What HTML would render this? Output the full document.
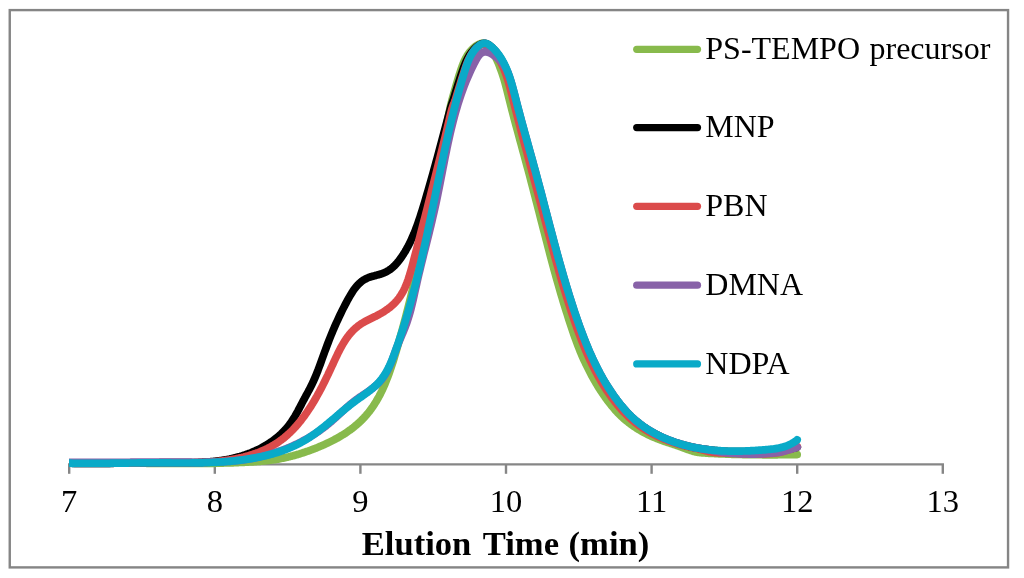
<!DOCTYPE html>
<html lang="en">
<head>
<meta charset="utf-8">
<title>Elution Time chart</title>
<style>
html,body{margin:0;padding:0;background:#fff;}
body{width:1024px;height:578px;overflow:hidden;font-family:"Liberation Serif",serif;}
svg{display:block;}
</style>
</head>
<body>
<svg width="1024" height="578" viewBox="0 0 1024 578">
<defs><clipPath id="plot"><rect x="69" y="0" width="760" height="500"/></clipPath></defs>
<rect x="0" y="0" width="1024" height="578" fill="#ffffff"/>
<rect x="9.75" y="10.1" width="998.3" height="557.3" fill="none" stroke="#858585" stroke-width="2.4"/>
<path d="M68.0,464.4 H944.0" stroke="#868686" stroke-width="2.4" fill="none"/>
<path d="M69.2,464.4 V473.8" stroke="#868686" stroke-width="2.4" fill="none"/>
<path d="M214.8,464.4 V473.8" stroke="#868686" stroke-width="2.4" fill="none"/>
<path d="M360.4,464.4 V473.8" stroke="#868686" stroke-width="2.4" fill="none"/>
<path d="M506.0,464.4 V473.8" stroke="#868686" stroke-width="2.4" fill="none"/>
<path d="M651.6,464.4 V473.8" stroke="#868686" stroke-width="2.4" fill="none"/>
<path d="M797.2,464.4 V473.8" stroke="#868686" stroke-width="2.4" fill="none"/>
<path d="M942.8,464.4 V473.8" stroke="#868686" stroke-width="2.4" fill="none"/>
<g clip-path="url(#plot)" fill="none" stroke-linecap="round" stroke-linejoin="round">
<path d="M69.0,463.2 L70.0,463.2 L71.0,463.2 L72.0,463.1 L73.0,463.1 L74.0,463.1 L75.0,463.1 L76.0,463.1 L77.0,463.1 L78.0,463.0 L79.0,463.0 L80.0,463.0 L81.0,463.0 L82.0,463.0 L83.0,463.0 L84.0,463.0 L85.0,463.0 L86.0,463.0 L87.0,463.0 L88.0,462.9 L89.0,462.9 L90.0,462.9 L91.0,462.9 L92.0,462.9 L93.0,462.9 L94.0,462.9 L95.0,462.9 L96.0,462.9 L97.0,462.9 L98.0,462.9 L99.0,462.9 L100.0,462.9 L101.0,462.9 L102.0,462.9 L103.0,462.9 L104.0,462.9 L105.0,462.9 L106.0,462.9 L107.0,462.9 L108.0,462.9 L109.0,462.9 L110.0,462.9 L111.0,462.9 L112.0,462.9 L113.0,462.9 L114.0,463.0 L115.0,463.0 L116.0,463.0 L117.0,463.0 L118.0,463.0 L119.0,463.0 L120.0,463.0 L121.0,463.0 L122.0,463.0 L123.0,463.0 L124.0,463.0 L125.0,463.0 L126.0,463.0 L127.0,463.1 L128.0,463.1 L129.0,463.1 L130.0,463.1 L131.0,463.1 L132.0,463.1 L133.0,463.1 L134.0,463.1 L135.0,463.1 L136.0,463.1 L137.0,463.2 L138.0,463.2 L139.0,463.2 L140.0,463.2 L141.0,463.2 L142.0,463.2 L143.0,463.2 L144.0,463.2 L145.0,463.2 L146.0,463.2 L147.0,463.3 L148.0,463.3 L149.0,463.3 L150.0,463.3 L151.0,463.3 L152.0,463.3 L153.0,463.3 L154.0,463.3 L155.0,463.3 L156.0,463.3 L157.0,463.4 L158.0,463.4 L159.0,463.4 L160.0,463.4 L161.0,463.4 L162.0,463.4 L163.0,463.4 L164.0,463.4 L165.0,463.4 L166.0,463.4 L167.0,463.4 L168.0,463.5 L169.0,463.5 L170.0,463.5 L171.0,463.5 L172.0,463.5 L173.0,463.5 L174.0,463.5 L175.0,463.5 L176.0,463.5 L177.0,463.5 L178.0,463.5 L179.0,463.5 L180.0,463.5 L181.0,463.5 L182.0,463.5 L183.0,463.5 L184.0,463.5 L185.0,463.5 L186.0,463.5 L187.0,463.5 L188.0,463.5 L189.0,463.5 L190.0,463.5 L191.0,463.5 L192.0,463.5 L193.0,463.5 L194.0,463.5 L195.0,463.5 L196.0,463.5 L197.0,463.5 L198.0,463.5 L199.0,463.5 L200.0,463.5 L201.0,463.5 L202.0,463.4 L203.0,463.4 L204.0,463.4 L205.0,463.4 L206.0,463.4 L207.0,463.4 L208.0,463.4 L209.0,463.4 L210.0,463.3 L211.0,463.3 L212.0,463.3 L213.0,463.3 L214.0,463.3 L215.0,463.3 L216.0,463.2 L217.0,463.2 L218.0,463.2 L219.0,463.2 L220.0,463.1 L221.0,463.1 L222.0,463.1 L223.0,463.1 L224.0,463.0 L225.0,463.0 L226.0,463.0 L227.0,463.0 L228.0,462.9 L229.0,462.9 L230.0,462.9 L231.0,462.8 L232.0,462.8 L233.0,462.8 L234.0,462.7 L235.0,462.7 L236.0,462.6 L237.0,462.6 L238.0,462.6 L239.0,462.5 L240.0,462.5 L241.0,462.4 L242.0,462.4 L243.0,462.3 L244.0,462.3 L245.0,462.2 L246.0,462.2 L247.0,462.1 L248.0,462.1 L249.0,462.0 L250.0,462.0 L251.0,461.9 L252.0,461.8 L253.0,461.8 L254.0,461.7 L255.0,461.7 L256.0,461.6 L257.0,461.5 L258.0,461.4 L259.0,461.4 L260.0,461.3 L261.0,461.2 L262.0,461.1 L263.0,461.0 L264.0,460.9 L265.0,460.8 L266.0,460.7 L267.0,460.6 L268.0,460.5 L269.0,460.4 L270.0,460.2 L271.0,460.1 L272.0,460.0 L273.0,459.8 L274.0,459.7 L275.0,459.6 L276.0,459.4 L277.0,459.2 L278.0,459.1 L279.0,458.9 L280.0,458.7 L281.0,458.5 L282.0,458.3 L283.0,458.1 L284.0,457.9 L285.0,457.7 L286.0,457.5 L287.0,457.3 L288.0,457.0 L289.0,456.8 L290.0,456.5 L291.0,456.3 L292.0,456.0 L293.0,455.8 L294.0,455.5 L295.0,455.2 L296.0,454.9 L297.0,454.6 L298.0,454.4 L299.0,454.1 L300.0,453.7 L301.0,453.4 L302.0,453.1 L303.0,452.8 L304.0,452.5 L305.0,452.1 L306.0,451.8 L307.0,451.4 L308.0,451.1 L309.0,450.7 L310.0,450.4 L311.0,450.0 L312.0,449.6 L313.0,449.3 L314.0,448.9 L315.0,448.5 L316.0,448.1 L317.0,447.7 L318.0,447.3 L319.0,446.9 L320.0,446.4 L321.0,446.0 L322.0,445.6 L323.0,445.1 L324.0,444.7 L325.0,444.2 L326.0,443.8 L327.0,443.3 L328.0,442.9 L329.0,442.4 L330.0,441.9 L331.0,441.4 L332.0,440.9 L333.0,440.4 L334.0,439.9 L335.0,439.3 L336.0,438.8 L337.0,438.2 L338.0,437.7 L339.0,437.1 L340.0,436.5 L341.0,435.9 L342.0,435.3 L343.0,434.7 L344.0,434.1 L345.0,433.5 L346.0,432.8 L347.0,432.1 L348.0,431.4 L349.0,430.7 L350.0,430.0 L351.0,429.3 L352.0,428.5 L353.0,427.8 L354.0,427.0 L355.0,426.1 L356.0,425.3 L357.0,424.4 L358.0,423.6 L359.0,422.7 L360.0,421.7 L361.0,420.8 L362.0,419.8 L363.0,418.7 L364.0,417.7 L365.0,416.6 L366.0,415.5 L367.0,414.3 L368.0,413.1 L369.0,411.9 L370.0,410.6 L371.0,409.2 L372.0,407.8 L373.0,406.4 L374.0,404.9 L375.0,403.3 L376.0,401.7 L377.0,400.0 L378.0,398.3 L379.0,396.5 L380.0,394.6 L381.0,392.6 L382.0,390.6 L383.0,388.4 L384.0,386.2 L385.0,383.9 L386.0,381.4 L387.0,378.9 L388.0,376.3 L389.0,373.6 L390.0,370.8 L391.0,367.8 L392.0,364.8 L393.0,361.7 L394.0,358.5 L395.0,355.2 L396.0,351.8 L397.0,348.4 L398.0,345.0 L399.0,341.5 L400.0,337.9 L401.0,334.3 L402.0,330.7 L403.0,327.0 L404.0,323.3 L405.0,319.5 L406.0,315.7 L407.0,311.8 L408.0,307.9 L409.0,303.9 L410.0,299.9 L411.0,295.8 L412.0,291.7 L413.0,287.5 L414.0,283.3 L415.0,279.0 L416.0,274.7 L417.0,270.3 L418.0,265.8 L419.0,261.3 L420.0,256.8 L421.0,252.2 L422.0,247.6 L423.0,242.9 L424.0,238.2 L425.0,233.4 L426.0,228.6 L427.0,223.7 L428.0,218.8 L429.0,213.9 L430.0,208.9 L431.0,204.0 L432.0,198.9 L433.0,193.9 L434.0,188.8 L435.0,183.8 L436.0,178.7 L437.0,173.6 L438.0,168.4 L439.0,163.3 L440.0,158.2 L441.0,153.1 L442.0,148.0 L443.0,143.0 L444.0,137.9 L445.0,132.8 L446.0,127.8 L447.0,122.8 L448.0,117.9 L449.0,113.0 L450.0,108.2 L451.0,103.9 L452.0,100.0 L453.0,96.4 L454.0,92.8 L455.0,89.3 L456.0,85.8 L457.0,82.4 L458.0,79.0 L459.0,75.7 L460.0,72.6 L461.0,69.5 L462.0,66.7 L463.0,64.1 L464.0,61.7 L465.0,59.5 L466.0,57.6 L467.0,55.9 L468.0,54.3 L469.0,52.9 L470.0,51.6 L471.0,50.5 L472.0,49.4 L473.0,48.4 L474.0,47.5 L475.0,46.7 L476.0,46.0 L477.0,45.3 L478.0,44.7 L479.0,44.2 L480.0,43.8 L481.0,43.6 L482.0,43.4 L483.0,43.5 L484.0,43.7 L485.0,44.1 L486.0,44.7 L487.0,45.5 L488.0,46.4 L489.0,47.4 L490.0,48.6 L491.0,49.8 L492.0,51.1 L493.0,52.6 L494.0,54.3 L495.0,56.1 L496.0,58.0 L497.0,60.1 L498.0,62.4 L499.0,64.9 L500.0,67.5 L501.0,70.2 L502.0,73.0 L503.0,76.0 L504.0,79.2 L505.0,82.7 L506.0,86.4 L507.0,90.3 L508.0,94.3 L509.0,98.4 L510.0,102.4 L511.0,106.3 L512.0,110.2 L513.0,114.1 L514.0,117.9 L515.0,121.7 L516.0,125.4 L517.0,129.1 L518.0,132.8 L519.0,136.5 L520.0,140.2 L521.0,143.8 L522.0,147.5 L523.0,151.1 L524.0,154.8 L525.0,158.5 L526.0,162.2 L527.0,165.9 L528.0,169.6 L529.0,173.3 L530.0,177.1 L531.0,180.9 L532.0,184.7 L533.0,188.6 L534.0,192.4 L535.0,196.3 L536.0,200.2 L537.0,204.1 L538.0,208.0 L539.0,211.9 L540.0,215.8 L541.0,219.7 L542.0,223.6 L543.0,227.4 L544.0,231.3 L545.0,235.1 L546.0,239.0 L547.0,242.8 L548.0,246.7 L549.0,250.6 L550.0,254.4 L551.0,258.2 L552.0,262.0 L553.0,265.7 L554.0,269.4 L555.0,273.1 L556.0,276.7 L557.0,280.3 L558.0,283.8 L559.0,287.3 L560.0,290.8 L561.0,294.2 L562.0,297.5 L563.0,300.8 L564.0,304.1 L565.0,307.3 L566.0,310.5 L567.0,313.7 L568.0,316.9 L569.0,320.0 L570.0,323.1 L571.0,326.1 L572.0,329.1 L573.0,332.0 L574.0,334.9 L575.0,337.7 L576.0,340.4 L577.0,343.1 L578.0,345.8 L579.0,348.3 L580.0,350.9 L581.0,353.3 L582.0,355.6 L583.0,357.9 L584.0,360.1 L585.0,362.2 L586.0,364.4 L587.0,366.4 L588.0,368.4 L589.0,370.4 L590.0,372.3 L591.0,374.2 L592.0,376.1 L593.0,377.9 L594.0,379.7 L595.0,381.4 L596.0,383.2 L597.0,384.8 L598.0,386.5 L599.0,388.1 L600.0,389.6 L601.0,391.2 L602.0,392.7 L603.0,394.1 L604.0,395.6 L605.0,397.0 L606.0,398.4 L607.0,399.8 L608.0,401.1 L609.0,402.4 L610.0,403.7 L611.0,405.0 L612.0,406.2 L613.0,407.4 L614.0,408.6 L615.0,409.8 L616.0,410.9 L617.0,412.0 L618.0,413.1 L619.0,414.1 L620.0,415.1 L621.0,416.1 L622.0,417.0 L623.0,417.9 L624.0,418.8 L625.0,419.7 L626.0,420.5 L627.0,421.3 L628.0,422.1 L629.0,422.9 L630.0,423.6 L631.0,424.4 L632.0,425.1 L633.0,425.8 L634.0,426.5 L635.0,427.2 L636.0,427.8 L637.0,428.5 L638.0,429.1 L639.0,429.7 L640.0,430.3 L641.0,430.9 L642.0,431.5 L643.0,432.0 L644.0,432.6 L645.0,433.1 L646.0,433.6 L647.0,434.1 L648.0,434.7 L649.0,435.1 L650.0,435.6 L651.0,436.1 L652.0,436.5 L653.0,437.0 L654.0,437.4 L655.0,437.8 L656.0,438.2 L657.0,438.6 L658.0,439.0 L659.0,439.4 L660.0,439.8 L661.0,440.1 L662.0,440.5 L663.0,440.9 L664.0,441.2 L665.0,441.5 L666.0,441.9 L667.0,442.2 L668.0,442.5 L669.0,442.8 L670.0,443.2 L671.0,443.5 L672.0,443.8 L673.0,444.2 L674.0,444.5 L675.0,444.8 L676.0,445.2 L677.0,445.5 L678.0,445.9 L679.0,446.3 L680.0,446.6 L681.0,447.0 L682.0,447.4 L683.0,447.7 L684.0,448.1 L685.0,448.5 L686.0,448.9 L687.0,449.2 L688.0,449.6 L689.0,449.9 L690.0,450.3 L691.0,450.6 L692.0,450.9 L693.0,451.2 L694.0,451.5 L695.0,451.7 L696.0,452.0 L697.0,452.2 L698.0,452.3 L699.0,452.5 L700.0,452.6 L701.0,452.7 L702.0,452.8 L703.0,452.9 L704.0,452.9 L705.0,453.0 L706.0,453.1 L707.0,453.1 L708.0,453.2 L709.0,453.3 L710.0,453.3 L711.0,453.4 L712.0,453.4 L713.0,453.5 L714.0,453.5 L715.0,453.6 L716.0,453.6 L717.0,453.7 L718.0,453.7 L719.0,453.8 L720.0,453.8 L721.0,453.8 L722.0,453.9 L723.0,453.9 L724.0,454.0 L725.0,454.0 L726.0,454.1 L727.0,454.1 L728.0,454.1 L729.0,454.2 L730.0,454.2 L731.0,454.2 L732.0,454.3 L733.0,454.3 L734.0,454.3 L735.0,454.4 L736.0,454.4 L737.0,454.4 L738.0,454.5 L739.0,454.5 L740.0,454.5 L741.0,454.5 L742.0,454.5 L743.0,454.6 L744.0,454.6 L745.0,454.6 L746.0,454.6 L747.0,454.6 L748.0,454.6 L749.0,454.7 L750.0,454.7 L751.0,454.7 L752.0,454.7 L753.0,454.7 L754.0,454.7 L755.0,454.7 L756.0,454.7 L757.0,454.7 L758.0,454.7 L759.0,454.7 L760.0,454.7 L761.0,454.7 L762.0,454.7 L763.0,454.8 L764.0,454.8 L765.0,454.8 L766.0,454.8 L767.0,454.8 L768.0,454.8 L769.0,454.8 L770.0,454.8 L771.0,454.8 L772.0,454.8 L773.0,454.8 L774.0,454.8 L775.0,454.8 L776.0,454.8 L777.0,454.8 L778.0,454.7 L779.0,454.7 L780.0,454.7 L781.0,454.7 L782.0,454.7 L783.0,454.7 L784.0,454.7 L785.0,454.7 L786.0,454.7 L787.0,454.7 L788.0,454.7 L789.0,454.7 L790.0,454.7 L791.0,454.7 L792.0,454.7 L793.0,454.7 L794.0,454.6 L795.0,454.6 L796.0,454.6 L797.0,454.6 L797.2,454.6" stroke="#88BA4C" stroke-width="7.7"/>
<path d="M69.0,463.2 L70.0,463.2 L71.0,463.2 L72.0,463.2 L73.0,463.3 L74.0,463.3 L75.0,463.3 L76.0,463.3 L77.0,463.3 L78.0,463.3 L79.0,463.3 L80.0,463.3 L81.0,463.3 L82.0,463.3 L83.0,463.4 L84.0,463.4 L85.0,463.4 L86.0,463.4 L87.0,463.4 L88.0,463.4 L89.0,463.4 L90.0,463.4 L91.0,463.4 L92.0,463.4 L93.0,463.4 L94.0,463.4 L95.0,463.4 L96.0,463.4 L97.0,463.4 L98.0,463.4 L99.0,463.4 L100.0,463.4 L101.0,463.3 L102.0,463.3 L103.0,463.3 L104.0,463.3 L105.0,463.3 L106.0,463.3 L107.0,463.3 L108.0,463.3 L109.0,463.3 L110.0,463.3 L111.0,463.3 L112.0,463.3 L113.0,463.3 L114.0,463.2 L115.0,463.2 L116.0,463.2 L117.0,463.2 L118.0,463.2 L119.0,463.2 L120.0,463.2 L121.0,463.2 L122.0,463.2 L123.0,463.1 L124.0,463.1 L125.0,463.1 L126.0,463.1 L127.0,463.1 L128.0,463.1 L129.0,463.1 L130.0,463.1 L131.0,463.0 L132.0,463.0 L133.0,463.0 L134.0,463.0 L135.0,463.0 L136.0,463.0 L137.0,463.0 L138.0,463.0 L139.0,462.9 L140.0,462.9 L141.0,462.9 L142.0,462.9 L143.0,462.9 L144.0,462.9 L145.0,462.9 L146.0,462.9 L147.0,462.9 L148.0,462.8 L149.0,462.8 L150.0,462.8 L151.0,462.8 L152.0,462.8 L153.0,462.8 L154.0,462.8 L155.0,462.8 L156.0,462.8 L157.0,462.8 L158.0,462.8 L159.0,462.8 L160.0,462.7 L161.0,462.7 L162.0,462.7 L163.0,462.7 L164.0,462.7 L165.0,462.7 L166.0,462.7 L167.0,462.7 L168.0,462.7 L169.0,462.7 L170.0,462.7 L171.0,462.7 L172.0,462.7 L173.0,462.7 L174.0,462.7 L175.0,462.7 L176.0,462.7 L177.0,462.7 L178.0,462.7 L179.0,462.7 L180.0,462.7 L181.0,462.7 L182.0,462.7 L183.0,462.7 L184.0,462.7 L185.0,462.7 L186.0,462.7 L187.0,462.7 L188.0,462.7 L189.0,462.7 L190.0,462.6 L191.0,462.6 L192.0,462.6 L193.0,462.6 L194.0,462.6 L195.0,462.5 L196.0,462.5 L197.0,462.5 L198.0,462.5 L199.0,462.4 L200.0,462.4 L201.0,462.3 L202.0,462.3 L203.0,462.2 L204.0,462.2 L205.0,462.1 L206.0,462.1 L207.0,462.0 L208.0,461.9 L209.0,461.8 L210.0,461.8 L211.0,461.7 L212.0,461.6 L213.0,461.5 L214.0,461.4 L215.0,461.3 L216.0,461.2 L217.0,461.1 L218.0,460.9 L219.0,460.8 L220.0,460.7 L221.0,460.5 L222.0,460.4 L223.0,460.2 L224.0,460.1 L225.0,459.9 L226.0,459.7 L227.0,459.5 L228.0,459.4 L229.0,459.2 L230.0,459.0 L231.0,458.7 L232.0,458.5 L233.0,458.3 L234.0,458.1 L235.0,457.8 L236.0,457.6 L237.0,457.3 L238.0,457.0 L239.0,456.7 L240.0,456.5 L241.0,456.2 L242.0,455.9 L243.0,455.5 L244.0,455.2 L245.0,454.9 L246.0,454.5 L247.0,454.2 L248.0,453.8 L249.0,453.4 L250.0,453.1 L251.0,452.7 L252.0,452.3 L253.0,451.8 L254.0,451.4 L255.0,451.0 L256.0,450.5 L257.0,450.0 L258.0,449.6 L259.0,449.1 L260.0,448.6 L261.0,448.1 L262.0,447.5 L263.0,447.0 L264.0,446.4 L265.0,445.8 L266.0,445.3 L267.0,444.6 L268.0,444.0 L269.0,443.4 L270.0,442.7 L271.0,442.0 L272.0,441.3 L273.0,440.6 L274.0,439.9 L275.0,439.1 L276.0,438.3 L277.0,437.5 L278.0,436.7 L279.0,435.8 L280.0,434.9 L281.0,434.0 L282.0,433.0 L283.0,432.0 L284.0,431.0 L285.0,429.9 L286.0,428.8 L287.0,427.6 L288.0,426.4 L289.0,425.2 L290.0,423.8 L291.0,422.4 L292.0,421.0 L293.0,419.4 L294.0,417.8 L295.0,416.2 L296.0,414.4 L297.0,412.6 L298.0,410.8 L299.0,408.9 L300.0,407.0 L301.0,405.1 L302.0,403.1 L303.0,401.2 L304.0,399.4 L305.0,397.5 L306.0,395.7 L307.0,393.8 L308.0,392.0 L309.0,390.2 L310.0,388.3 L311.0,386.3 L312.0,384.3 L313.0,382.2 L314.0,379.9 L315.0,377.6 L316.0,375.2 L317.0,372.7 L318.0,370.2 L319.0,367.5 L320.0,364.8 L321.0,362.1 L322.0,359.3 L323.0,356.5 L324.0,353.7 L325.0,351.0 L326.0,348.3 L327.0,345.6 L328.0,343.0 L329.0,340.4 L330.0,337.9 L331.0,335.4 L332.0,333.0 L333.0,330.6 L334.0,328.2 L335.0,325.9 L336.0,323.7 L337.0,321.5 L338.0,319.3 L339.0,317.1 L340.0,315.0 L341.0,313.0 L342.0,310.9 L343.0,308.9 L344.0,307.0 L345.0,305.0 L346.0,303.1 L347.0,301.2 L348.0,299.4 L349.0,297.6 L350.0,295.9 L351.0,294.2 L352.0,292.6 L353.0,291.0 L354.0,289.6 L355.0,288.2 L356.0,287.0 L357.0,285.8 L358.0,284.7 L359.0,283.7 L360.0,282.8 L361.0,281.9 L362.0,281.1 L363.0,280.4 L364.0,279.8 L365.0,279.2 L366.0,278.7 L367.0,278.2 L368.0,277.8 L369.0,277.4 L370.0,277.0 L371.0,276.7 L372.0,276.4 L373.0,276.2 L374.0,275.9 L375.0,275.6 L376.0,275.4 L377.0,275.1 L378.0,274.8 L379.0,274.6 L380.0,274.3 L381.0,274.0 L382.0,273.6 L383.0,273.3 L384.0,272.9 L385.0,272.4 L386.0,272.0 L387.0,271.4 L388.0,270.8 L389.0,270.2 L390.0,269.5 L391.0,268.8 L392.0,268.0 L393.0,267.1 L394.0,266.2 L395.0,265.2 L396.0,264.1 L397.0,263.0 L398.0,261.8 L399.0,260.6 L400.0,259.2 L401.0,257.9 L402.0,256.4 L403.0,254.9 L404.0,253.3 L405.0,251.7 L406.0,250.0 L407.0,248.2 L408.0,246.4 L409.0,244.5 L410.0,242.5 L411.0,240.4 L412.0,238.2 L413.0,235.9 L414.0,233.6 L415.0,231.1 L416.0,228.5 L417.0,225.8 L418.0,223.0 L419.0,220.1 L420.0,217.1 L421.0,214.0 L422.0,210.8 L423.0,207.6 L424.0,204.3 L425.0,201.0 L426.0,197.6 L427.0,194.2 L428.0,190.8 L429.0,187.3 L430.0,183.8 L431.0,180.3 L432.0,176.8 L433.0,173.2 L434.0,169.6 L435.0,166.0 L436.0,162.3 L437.0,158.7 L438.0,155.0 L439.0,151.3 L440.0,147.5 L441.0,143.8 L442.0,140.1 L443.0,136.3 L444.0,132.5 L445.0,128.8 L446.0,125.0 L447.0,121.2 L448.0,117.5 L449.0,113.7 L450.0,110.0 L451.0,106.4 L452.0,103.3 L453.0,100.4 L454.0,97.4 L455.0,94.2 L456.0,90.9 L457.0,87.7 L458.0,84.5 L459.0,81.3 L460.0,78.2 L461.0,75.2 L462.0,72.3 L463.0,69.4 L464.0,66.6 L465.0,64.1 L466.0,61.7 L467.0,59.6 L468.0,57.6 L469.0,55.9 L470.0,54.3 L471.0,52.9 L472.0,51.6 L473.0,50.4 L474.0,49.3 L475.0,48.3 L476.0,47.4 L477.0,46.5 L478.0,45.8 L479.0,45.1 L480.0,44.6 L481.0,44.1 L482.0,43.8 L483.0,43.5 L484.0,43.4 L485.0,43.4 L486.0,43.6 L487.0,43.9 L488.0,44.4 L489.0,45.0 L490.0,45.7 L491.0,46.5 L492.0,47.4 L493.0,48.4 L494.0,49.5 L495.0,50.6 L496.0,51.7 L497.0,53.0 L498.0,54.3 L499.0,55.8 L500.0,57.3 L501.0,58.9 L502.0,60.6 L503.0,62.4 L504.0,64.4 L505.0,66.5 L506.0,68.8 L507.0,71.3 L508.0,73.9 L509.0,76.8 L510.0,79.9 L511.0,83.2 L512.0,86.7 L513.0,90.4 L514.0,94.2 L515.0,98.0 L516.0,101.9 L517.0,105.8 L518.0,109.6 L519.0,113.4 L520.0,117.1 L521.0,120.9 L522.0,124.5 L523.0,128.2 L524.0,131.8 L525.0,135.4 L526.0,139.1 L527.0,142.7 L528.0,146.2 L529.0,149.8 L530.0,153.4 L531.0,157.0 L532.0,160.6 L533.0,164.3 L534.0,167.9 L535.0,171.6 L536.0,175.3 L537.0,179.0 L538.0,182.7 L539.0,186.5 L540.0,190.3 L541.0,194.1 L542.0,197.9 L543.0,201.7 L544.0,205.5 L545.0,209.4 L546.0,213.2 L547.0,217.0 L548.0,220.9 L549.0,224.7 L550.0,228.5 L551.0,232.3 L552.0,236.1 L553.0,239.8 L554.0,243.6 L555.0,247.3 L556.0,251.0 L557.0,254.7 L558.0,258.3 L559.0,261.9 L560.0,265.5 L561.0,269.0 L562.0,272.5 L563.0,276.0 L564.0,279.4 L565.0,282.8 L566.0,286.1 L567.0,289.4 L568.0,292.7 L569.0,295.9 L570.0,299.1 L571.0,302.2 L572.0,305.3 L573.0,308.4 L574.0,311.4 L575.0,314.4 L576.0,317.3 L577.0,320.2 L578.0,323.1 L579.0,325.9 L580.0,328.7 L581.0,331.4 L582.0,334.1 L583.0,336.7 L584.0,339.3 L585.0,341.8 L586.0,344.3 L587.0,346.7 L588.0,349.1 L589.0,351.4 L590.0,353.7 L591.0,355.9 L592.0,358.1 L593.0,360.2 L594.0,362.3 L595.0,364.4 L596.0,366.4 L597.0,368.4 L598.0,370.3 L599.0,372.2 L600.0,374.1 L601.0,375.9 L602.0,377.7 L603.0,379.4 L604.0,381.1 L605.0,382.8 L606.0,384.4 L607.0,386.0 L608.0,387.6 L609.0,389.2 L610.0,390.7 L611.0,392.2 L612.0,393.6 L613.0,395.1 L614.0,396.5 L615.0,397.9 L616.0,399.2 L617.0,400.5 L618.0,401.9 L619.0,403.1 L620.0,404.4 L621.0,405.6 L622.0,406.8 L623.0,408.0 L624.0,409.2 L625.0,410.3 L626.0,411.4 L627.0,412.5 L628.0,413.5 L629.0,414.6 L630.0,415.6 L631.0,416.5 L632.0,417.5 L633.0,418.4 L634.0,419.3 L635.0,420.2 L636.0,421.0 L637.0,421.8 L638.0,422.6 L639.0,423.4 L640.0,424.2 L641.0,424.9 L642.0,425.7 L643.0,426.4 L644.0,427.1 L645.0,427.8 L646.0,428.4 L647.0,429.1 L648.0,429.7 L649.0,430.3 L650.0,430.9 L651.0,431.5 L652.0,432.1 L653.0,432.7 L654.0,433.2 L655.0,433.8 L656.0,434.3 L657.0,434.8 L658.0,435.3 L659.0,435.8 L660.0,436.3 L661.0,436.8 L662.0,437.2 L663.0,437.7 L664.0,438.1 L665.0,438.6 L666.0,439.0 L667.0,439.4 L668.0,439.8 L669.0,440.2 L670.0,440.6 L671.0,441.0 L672.0,441.3 L673.0,441.7 L674.0,442.0 L675.0,442.4 L676.0,442.7 L677.0,443.0 L678.0,443.3 L679.0,443.7 L680.0,444.0 L681.0,444.3 L682.0,444.5 L683.0,444.8 L684.0,445.1 L685.0,445.4 L686.0,445.6 L687.0,445.9 L688.0,446.1 L689.0,446.4 L690.0,446.6 L691.0,446.8 L692.0,447.0 L693.0,447.2 L694.0,447.5 L695.0,447.7 L696.0,447.8 L697.0,448.0 L698.0,448.2 L699.0,448.4 L700.0,448.6 L701.0,448.7 L702.0,448.9 L703.0,449.0 L704.0,449.2 L705.0,449.3 L706.0,449.4 L707.0,449.6 L708.0,449.7 L709.0,449.8 L710.0,449.9 L711.0,450.0 L712.0,450.2 L713.0,450.3 L714.0,450.4 L715.0,450.5 L716.0,450.6 L717.0,450.7 L718.0,450.8 L719.0,450.9 L720.0,451.0 L721.0,451.1 L722.0,451.1 L723.0,451.2 L724.0,451.3 L725.0,451.3 L726.0,451.4 L727.0,451.4 L728.0,451.5 L729.0,451.5 L730.0,451.5 L731.0,451.5 L732.0,451.5 L733.0,451.5 L734.0,451.5 L735.0,451.5 L736.0,451.5 L737.0,451.5 L738.0,451.5 L739.0,451.5 L740.0,451.5 L741.0,451.5 L742.0,451.5 L743.0,451.5 L744.0,451.5 L745.0,451.5 L746.0,451.5 L747.0,451.5 L748.0,451.5 L749.0,451.5 L750.0,451.5 L751.0,451.5 L752.0,451.5 L753.0,451.5 L754.0,451.5 L755.0,451.5 L756.0,451.5 L757.0,451.5 L758.0,451.5 L759.0,451.5 L760.0,451.5 L761.0,451.5 L762.0,451.5 L763.0,451.5 L764.0,451.5 L765.0,451.4 L766.0,451.4 L767.0,451.4 L768.0,451.3 L769.0,451.3 L770.0,451.2 L771.0,451.2 L772.0,451.1 L773.0,451.1 L774.0,451.0 L775.0,451.0 L776.0,450.9 L777.0,450.8 L778.0,450.7 L779.0,450.7 L780.0,450.6 L781.0,450.5 L782.0,450.4 L783.0,450.2 L784.0,450.1 L785.0,449.9 L786.0,449.7 L787.0,449.5 L788.0,449.3 L789.0,449.1 L790.0,448.9 L791.0,448.7 L792.0,448.5 L793.0,448.2 L794.0,448.0 L795.0,447.8 L796.0,447.5 L797.0,447.4 L797.2,447.2" stroke="#000000" stroke-width="7.7"/>
<path d="M69.0,463.2 L70.0,463.2 L71.0,463.2 L72.0,463.2 L73.0,463.2 L74.0,463.2 L75.0,463.3 L76.0,463.3 L77.0,463.3 L78.0,463.3 L79.0,463.3 L80.0,463.3 L81.0,463.3 L82.0,463.3 L83.0,463.3 L84.0,463.3 L85.0,463.3 L86.0,463.3 L87.0,463.3 L88.0,463.3 L89.0,463.3 L90.0,463.3 L91.0,463.3 L92.0,463.3 L93.0,463.3 L94.0,463.3 L95.0,463.3 L96.0,463.3 L97.0,463.3 L98.0,463.3 L99.0,463.3 L100.0,463.3 L101.0,463.3 L102.0,463.3 L103.0,463.3 L104.0,463.3 L105.0,463.3 L106.0,463.3 L107.0,463.3 L108.0,463.3 L109.0,463.3 L110.0,463.2 L111.0,463.2 L112.0,463.2 L113.0,463.2 L114.0,463.2 L115.0,463.2 L116.0,463.2 L117.0,463.2 L118.0,463.2 L119.0,463.2 L120.0,463.2 L121.0,463.2 L122.0,463.2 L123.0,463.2 L124.0,463.2 L125.0,463.2 L126.0,463.1 L127.0,463.1 L128.0,463.1 L129.0,463.1 L130.0,463.1 L131.0,463.1 L132.0,463.1 L133.0,463.1 L134.0,463.1 L135.0,463.1 L136.0,463.1 L137.0,463.1 L138.0,463.1 L139.0,463.1 L140.0,463.0 L141.0,463.0 L142.0,463.0 L143.0,463.0 L144.0,463.0 L145.0,463.0 L146.0,463.0 L147.0,463.0 L148.0,463.0 L149.0,463.0 L150.0,463.0 L151.0,463.0 L152.0,463.0 L153.0,463.0 L154.0,463.0 L155.0,463.0 L156.0,462.9 L157.0,462.9 L158.0,462.9 L159.0,462.9 L160.0,462.9 L161.0,462.9 L162.0,462.9 L163.0,462.9 L164.0,462.9 L165.0,462.9 L166.0,462.9 L167.0,462.9 L168.0,462.9 L169.0,462.9 L170.0,462.9 L171.0,462.9 L172.0,462.9 L173.0,462.9 L174.0,462.9 L175.0,462.9 L176.0,462.9 L177.0,462.9 L178.0,462.9 L179.0,462.9 L180.0,462.9 L181.0,462.9 L182.0,462.9 L183.0,462.9 L184.0,462.9 L185.0,462.9 L186.0,462.9 L187.0,462.9 L188.0,462.8 L189.0,462.8 L190.0,462.8 L191.0,462.8 L192.0,462.8 L193.0,462.8 L194.0,462.8 L195.0,462.7 L196.0,462.7 L197.0,462.7 L198.0,462.6 L199.0,462.6 L200.0,462.6 L201.0,462.5 L202.0,462.5 L203.0,462.5 L204.0,462.4 L205.0,462.4 L206.0,462.3 L207.0,462.3 L208.0,462.2 L209.0,462.1 L210.0,462.1 L211.0,462.0 L212.0,461.9 L213.0,461.9 L214.0,461.8 L215.0,461.7 L216.0,461.6 L217.0,461.5 L218.0,461.4 L219.0,461.3 L220.0,461.2 L221.0,461.1 L222.0,461.0 L223.0,460.8 L224.0,460.7 L225.0,460.6 L226.0,460.4 L227.0,460.3 L228.0,460.2 L229.0,460.0 L230.0,459.8 L231.0,459.7 L232.0,459.5 L233.0,459.3 L234.0,459.2 L235.0,459.0 L236.0,458.8 L237.0,458.6 L238.0,458.4 L239.0,458.1 L240.0,457.9 L241.0,457.7 L242.0,457.5 L243.0,457.2 L244.0,457.0 L245.0,456.7 L246.0,456.4 L247.0,456.2 L248.0,455.9 L249.0,455.6 L250.0,455.3 L251.0,455.0 L252.0,454.7 L253.0,454.3 L254.0,454.0 L255.0,453.7 L256.0,453.3 L257.0,452.9 L258.0,452.6 L259.0,452.2 L260.0,451.8 L261.0,451.4 L262.0,450.9 L263.0,450.5 L264.0,450.1 L265.0,449.6 L266.0,449.1 L267.0,448.7 L268.0,448.2 L269.0,447.6 L270.0,447.1 L271.0,446.6 L272.0,446.0 L273.0,445.4 L274.0,444.9 L275.0,444.2 L276.0,443.6 L277.0,443.0 L278.0,442.3 L279.0,441.6 L280.0,440.9 L281.0,440.2 L282.0,439.4 L283.0,438.7 L284.0,437.9 L285.0,437.1 L286.0,436.2 L287.0,435.3 L288.0,434.4 L289.0,433.5 L290.0,432.6 L291.0,431.6 L292.0,430.6 L293.0,429.6 L294.0,428.5 L295.0,427.4 L296.0,426.3 L297.0,425.2 L298.0,424.0 L299.0,422.8 L300.0,421.6 L301.0,420.3 L302.0,419.0 L303.0,417.7 L304.0,416.4 L305.0,415.0 L306.0,413.6 L307.0,412.2 L308.0,410.7 L309.0,409.2 L310.0,407.7 L311.0,406.1 L312.0,404.5 L313.0,402.9 L314.0,401.2 L315.0,399.5 L316.0,397.8 L317.0,396.0 L318.0,394.2 L319.0,392.4 L320.0,390.5 L321.0,388.6 L322.0,386.7 L323.0,384.8 L324.0,382.8 L325.0,380.8 L326.0,378.7 L327.0,376.6 L328.0,374.6 L329.0,372.4 L330.0,370.3 L331.0,368.2 L332.0,366.0 L333.0,363.8 L334.0,361.7 L335.0,359.5 L336.0,357.4 L337.0,355.3 L338.0,353.2 L339.0,351.2 L340.0,349.3 L341.0,347.4 L342.0,345.6 L343.0,343.9 L344.0,342.2 L345.0,340.6 L346.0,339.1 L347.0,337.7 L348.0,336.3 L349.0,335.0 L350.0,333.8 L351.0,332.7 L352.0,331.6 L353.0,330.5 L354.0,329.5 L355.0,328.6 L356.0,327.7 L357.0,326.9 L358.0,326.1 L359.0,325.3 L360.0,324.6 L361.0,323.9 L362.0,323.3 L363.0,322.7 L364.0,322.1 L365.0,321.5 L366.0,321.0 L367.0,320.5 L368.0,320.0 L369.0,319.5 L370.0,319.0 L371.0,318.5 L372.0,318.0 L373.0,317.5 L374.0,317.0 L375.0,316.5 L376.0,316.1 L377.0,315.5 L378.0,315.0 L379.0,314.5 L380.0,313.9 L381.0,313.4 L382.0,312.8 L383.0,312.2 L384.0,311.6 L385.0,310.9 L386.0,310.2 L387.0,309.5 L388.0,308.8 L389.0,308.0 L390.0,307.3 L391.0,306.4 L392.0,305.6 L393.0,304.7 L394.0,303.7 L395.0,302.7 L396.0,301.6 L397.0,300.5 L398.0,299.3 L399.0,298.0 L400.0,296.6 L401.0,295.0 L402.0,293.4 L403.0,291.6 L404.0,289.7 L405.0,287.6 L406.0,285.2 L407.0,282.7 L408.0,280.0 L409.0,277.0 L410.0,273.7 L411.0,270.3 L412.0,266.7 L413.0,262.9 L414.0,259.1 L415.0,255.3 L416.0,251.5 L417.0,247.7 L418.0,243.8 L419.0,240.0 L420.0,236.1 L421.0,232.3 L422.0,228.4 L423.0,224.6 L424.0,220.7 L425.0,216.9 L426.0,213.0 L427.0,209.1 L428.0,205.2 L429.0,201.3 L430.0,197.4 L431.0,193.5 L432.0,189.5 L433.0,185.6 L434.0,181.6 L435.0,177.7 L436.0,173.7 L437.0,169.7 L438.0,165.7 L439.0,161.7 L440.0,157.7 L441.0,153.7 L442.0,149.6 L443.0,145.5 L444.0,141.4 L445.0,137.3 L446.0,133.2 L447.0,129.1 L448.0,124.9 L449.0,120.7 L450.0,116.5 L451.0,112.4 L452.0,108.6 L453.0,105.6 L454.0,103.2 L455.0,100.6 L456.0,97.5 L457.0,94.2 L458.0,90.9 L459.0,87.6 L460.0,84.4 L461.0,81.2 L462.0,78.0 L463.0,74.8 L464.0,71.7 L465.0,68.7 L466.0,65.8 L467.0,63.2 L468.0,60.7 L469.0,58.6 L470.0,56.7 L471.0,54.9 L472.0,53.3 L473.0,51.9 L474.0,50.6 L475.0,49.5 L476.0,48.4 L477.0,47.5 L478.0,46.6 L479.0,45.9 L480.0,45.3 L481.0,44.8 L482.0,44.5 L483.0,44.2 L484.0,44.1 L485.0,44.2 L486.0,44.4 L487.0,44.8 L488.0,45.4 L489.0,46.1 L490.0,46.9 L491.0,47.9 L492.0,48.9 L493.0,50.1 L494.0,51.3 L495.0,52.6 L496.0,54.0 L497.0,55.6 L498.0,57.3 L499.0,59.0 L500.0,60.9 L501.0,62.8 L502.0,64.9 L503.0,67.0 L504.0,69.3 L505.0,71.9 L506.0,74.6 L507.0,77.5 L508.0,80.7 L509.0,84.1 L510.0,87.7 L511.0,91.4 L512.0,95.3 L513.0,99.3 L514.0,103.3 L515.0,107.3 L516.0,111.2 L517.0,115.1 L518.0,119.0 L519.0,122.8 L520.0,126.6 L521.0,130.4 L522.0,134.2 L523.0,137.9 L524.0,141.7 L525.0,145.4 L526.0,149.1 L527.0,152.8 L528.0,156.6 L529.0,160.3 L530.0,164.1 L531.0,167.8 L532.0,171.6 L533.0,175.3 L534.0,178.9 L535.0,182.6 L536.0,186.3 L537.0,190.0 L538.0,193.7 L539.0,197.4 L540.0,201.2 L541.0,204.9 L542.0,208.7 L543.0,212.4 L544.0,216.2 L545.0,220.0 L546.0,223.7 L547.0,227.4 L548.0,231.2 L549.0,234.9 L550.0,238.6 L551.0,242.3 L552.0,246.0 L553.0,249.7 L554.0,253.4 L555.0,257.0 L556.0,260.7 L557.0,264.3 L558.0,267.8 L559.0,271.4 L560.0,274.9 L561.0,278.3 L562.0,281.7 L563.0,285.1 L564.0,288.4 L565.0,291.7 L566.0,295.0 L567.0,298.2 L568.0,301.4 L569.0,304.5 L570.0,307.6 L571.0,310.7 L572.0,313.7 L573.0,316.6 L574.0,319.6 L575.0,322.5 L576.0,325.3 L577.0,328.1 L578.0,330.9 L579.0,333.6 L580.0,336.2 L581.0,338.8 L582.0,341.4 L583.0,343.9 L584.0,346.4 L585.0,348.8 L586.0,351.1 L587.0,353.4 L588.0,355.7 L589.0,357.9 L590.0,360.1 L591.0,362.2 L592.0,364.3 L593.0,366.3 L594.0,368.3 L595.0,370.3 L596.0,372.2 L597.0,374.0 L598.0,375.9 L599.0,377.7 L600.0,379.4 L601.0,381.2 L602.0,382.9 L603.0,384.5 L604.0,386.1 L605.0,387.7 L606.0,389.3 L607.0,390.8 L608.0,392.2 L609.0,393.7 L610.0,395.1 L611.0,396.5 L612.0,397.9 L613.0,399.2 L614.0,400.5 L615.0,401.8 L616.0,403.1 L617.0,404.3 L618.0,405.6 L619.0,406.8 L620.0,407.9 L621.0,409.1 L622.0,410.2 L623.0,411.3 L624.0,412.4 L625.0,413.4 L626.0,414.4 L627.0,415.4 L628.0,416.4 L629.0,417.3 L630.0,418.2 L631.0,419.1 L632.0,420.0 L633.0,420.8 L634.0,421.6 L635.0,422.5 L636.0,423.2 L637.0,424.0 L638.0,424.7 L639.0,425.5 L640.0,426.2 L641.0,426.9 L642.0,427.6 L643.0,428.2 L644.0,428.9 L645.0,429.5 L646.0,430.1 L647.0,430.7 L648.0,431.3 L649.0,431.9 L650.0,432.5 L651.0,433.0 L652.0,433.5 L653.0,434.1 L654.0,434.6 L655.0,435.1 L656.0,435.6 L657.0,436.0 L658.0,436.5 L659.0,437.0 L660.0,437.4 L661.0,437.9 L662.0,438.3 L663.0,438.7 L664.0,439.1 L665.0,439.5 L666.0,439.9 L667.0,440.3 L668.0,440.7 L669.0,441.0 L670.0,441.4 L671.0,441.7 L672.0,442.1 L673.0,442.4 L674.0,442.8 L675.0,443.1 L676.0,443.4 L677.0,443.7 L678.0,444.0 L679.0,444.3 L680.0,444.6 L681.0,444.8 L682.0,445.1 L683.0,445.4 L684.0,445.6 L685.0,445.9 L686.0,446.1 L687.0,446.3 L688.0,446.6 L689.0,446.8 L690.0,447.0 L691.0,447.2 L692.0,447.4 L693.0,447.6 L694.0,447.8 L695.0,448.0 L696.0,448.3 L697.0,448.5 L698.0,448.7 L699.0,449.0 L700.0,449.2 L701.0,449.5 L702.0,449.7 L703.0,450.0 L704.0,450.3 L705.0,450.6 L706.0,450.8 L707.0,451.1 L708.0,451.4 L709.0,451.6 L710.0,451.8 L711.0,452.0 L712.0,452.2 L713.0,452.4 L714.0,452.5 L715.0,452.6 L716.0,452.7 L717.0,452.7 L718.0,452.8 L719.0,452.8 L720.0,452.9 L721.0,452.9 L722.0,453.0 L723.0,453.0 L724.0,453.1 L725.0,453.1 L726.0,453.2 L727.0,453.2 L728.0,453.2 L729.0,453.3 L730.0,453.3 L731.0,453.3 L732.0,453.4 L733.0,453.4 L734.0,453.4 L735.0,453.5 L736.0,453.5 L737.0,453.5 L738.0,453.5 L739.0,453.6 L740.0,453.6 L741.0,453.6 L742.0,453.7 L743.0,453.7 L744.0,453.7 L745.0,453.7 L746.0,453.8 L747.0,453.8 L748.0,453.8 L749.0,453.8 L750.0,453.9 L751.0,453.9 L752.0,453.9 L753.0,453.9 L754.0,453.9 L755.0,454.0 L756.0,454.0 L757.0,454.0 L758.0,454.0 L759.0,454.0 L760.0,454.0 L761.0,454.0 L762.0,454.0 L763.0,453.9 L764.0,453.9 L765.0,453.9 L766.0,453.8 L767.0,453.7 L768.0,453.7 L769.0,453.6 L770.0,453.5 L771.0,453.4 L772.0,453.3 L773.0,453.2 L774.0,453.1 L775.0,453.0 L776.0,452.9 L777.0,452.7 L778.0,452.6 L779.0,452.4 L780.0,452.2 L781.0,451.9 L782.0,451.7 L783.0,451.4 L784.0,451.2 L785.0,450.9 L786.0,450.6 L787.0,450.3 L788.0,450.0 L789.0,449.7 L790.0,449.4 L791.0,449.1 L792.0,448.7 L793.0,448.3 L794.0,447.9 L795.0,447.5 L796.0,447.1 L797.0,446.8 L797.2,446.5" stroke="#DB4B4B" stroke-width="7.7"/>
<path d="M69.0,462.3 L70.0,462.3 L71.0,462.3 L72.0,462.3 L73.0,462.3 L74.0,462.4 L75.0,462.4 L76.0,462.4 L77.0,462.4 L78.0,462.4 L79.0,462.4 L80.0,462.4 L81.0,462.4 L82.0,462.4 L83.0,462.4 L84.0,462.4 L85.0,462.4 L86.0,462.4 L87.0,462.4 L88.0,462.4 L89.0,462.4 L90.0,462.4 L91.0,462.4 L92.0,462.4 L93.0,462.4 L94.0,462.4 L95.0,462.4 L96.0,462.4 L97.0,462.4 L98.0,462.4 L99.0,462.4 L100.0,462.4 L101.0,462.4 L102.0,462.4 L103.0,462.4 L104.0,462.4 L105.0,462.4 L106.0,462.4 L107.0,462.4 L108.0,462.4 L109.0,462.4 L110.0,462.4 L111.0,462.4 L112.0,462.4 L113.0,462.4 L114.0,462.4 L115.0,462.4 L116.0,462.4 L117.0,462.4 L118.0,462.3 L119.0,462.3 L120.0,462.3 L121.0,462.3 L122.0,462.3 L123.0,462.3 L124.0,462.3 L125.0,462.3 L126.0,462.3 L127.0,462.3 L128.0,462.3 L129.0,462.3 L130.0,462.3 L131.0,462.2 L132.0,462.2 L133.0,462.2 L134.0,462.2 L135.0,462.2 L136.0,462.2 L137.0,462.2 L138.0,462.2 L139.0,462.2 L140.0,462.2 L141.0,462.2 L142.0,462.2 L143.0,462.2 L144.0,462.2 L145.0,462.1 L146.0,462.1 L147.0,462.1 L148.0,462.1 L149.0,462.1 L150.0,462.1 L151.0,462.1 L152.0,462.1 L153.0,462.1 L154.0,462.1 L155.0,462.1 L156.0,462.1 L157.0,462.1 L158.0,462.1 L159.0,462.1 L160.0,462.1 L161.0,462.1 L162.0,462.1 L163.0,462.1 L164.0,462.1 L165.0,462.1 L166.0,462.1 L167.0,462.1 L168.0,462.1 L169.0,462.1 L170.0,462.1 L171.0,462.1 L172.0,462.1 L173.0,462.1 L174.0,462.1 L175.0,462.1 L176.0,462.1 L177.0,462.1 L178.0,462.1 L179.0,462.1 L180.0,462.1 L181.0,462.2 L182.0,462.2 L183.0,462.2 L184.0,462.2 L185.0,462.2 L186.0,462.2 L187.0,462.2 L188.0,462.2 L189.0,462.2 L190.0,462.2 L191.0,462.2 L192.0,462.3 L193.0,462.3 L194.0,462.3 L195.0,462.3 L196.0,462.3 L197.0,462.3 L198.0,462.3 L199.0,462.3 L200.0,462.3 L201.0,462.3 L202.0,462.3 L203.0,462.3 L204.0,462.3 L205.0,462.3 L206.0,462.3 L207.0,462.2 L208.0,462.2 L209.0,462.2 L210.0,462.2 L211.0,462.2 L212.0,462.2 L213.0,462.1 L214.0,462.1 L215.0,462.1 L216.0,462.1 L217.0,462.0 L218.0,462.0 L219.0,461.9 L220.0,461.9 L221.0,461.9 L222.0,461.8 L223.0,461.8 L224.0,461.7 L225.0,461.6 L226.0,461.6 L227.0,461.5 L228.0,461.4 L229.0,461.4 L230.0,461.3 L231.0,461.2 L232.0,461.1 L233.0,461.0 L234.0,460.9 L235.0,460.8 L236.0,460.7 L237.0,460.6 L238.0,460.5 L239.0,460.4 L240.0,460.3 L241.0,460.2 L242.0,460.0 L243.0,459.9 L244.0,459.8 L245.0,459.6 L246.0,459.5 L247.0,459.3 L248.0,459.1 L249.0,459.0 L250.0,458.8 L251.0,458.6 L252.0,458.4 L253.0,458.2 L254.0,458.1 L255.0,457.9 L256.0,457.6 L257.0,457.4 L258.0,457.2 L259.0,457.0 L260.0,456.8 L261.0,456.5 L262.0,456.3 L263.0,456.1 L264.0,455.8 L265.0,455.5 L266.0,455.3 L267.0,455.0 L268.0,454.7 L269.0,454.5 L270.0,454.2 L271.0,453.9 L272.0,453.6 L273.0,453.3 L274.0,453.0 L275.0,452.6 L276.0,452.3 L277.0,452.0 L278.0,451.6 L279.0,451.3 L280.0,450.9 L281.0,450.6 L282.0,450.2 L283.0,449.9 L284.0,449.5 L285.0,449.1 L286.0,448.7 L287.0,448.3 L288.0,447.9 L289.0,447.5 L290.0,447.1 L291.0,446.6 L292.0,446.2 L293.0,445.7 L294.0,445.3 L295.0,444.8 L296.0,444.4 L297.0,443.9 L298.0,443.4 L299.0,442.9 L300.0,442.4 L301.0,441.9 L302.0,441.4 L303.0,440.8 L304.0,440.3 L305.0,439.8 L306.0,439.2 L307.0,438.6 L308.0,438.1 L309.0,437.5 L310.0,436.9 L311.0,436.3 L312.0,435.7 L313.0,435.0 L314.0,434.4 L315.0,433.8 L316.0,433.1 L317.0,432.4 L318.0,431.8 L319.0,431.1 L320.0,430.4 L321.0,429.6 L322.0,428.9 L323.0,428.2 L324.0,427.4 L325.0,426.7 L326.0,425.9 L327.0,425.1 L328.0,424.3 L329.0,423.5 L330.0,422.6 L331.0,421.8 L332.0,420.9 L333.0,420.0 L334.0,419.1 L335.0,418.2 L336.0,417.3 L337.0,416.4 L338.0,415.5 L339.0,414.5 L340.0,413.6 L341.0,412.7 L342.0,411.8 L343.0,410.8 L344.0,409.9 L345.0,409.0 L346.0,408.1 L347.0,407.2 L348.0,406.3 L349.0,405.5 L350.0,404.6 L351.0,403.8 L352.0,403.0 L353.0,402.1 L354.0,401.4 L355.0,400.6 L356.0,399.9 L357.0,399.1 L358.0,398.4 L359.0,397.7 L360.0,397.0 L361.0,396.3 L362.0,395.7 L363.0,395.0 L364.0,394.3 L365.0,393.6 L366.0,393.0 L367.0,392.3 L368.0,391.6 L369.0,390.9 L370.0,390.2 L371.0,389.4 L372.0,388.7 L373.0,387.9 L374.0,387.1 L375.0,386.3 L376.0,385.4 L377.0,384.5 L378.0,383.6 L379.0,382.6 L380.0,381.5 L381.0,380.4 L382.0,379.1 L383.0,377.8 L384.0,376.4 L385.0,374.9 L386.0,373.3 L387.0,371.6 L388.0,369.7 L389.0,367.7 L390.0,365.5 L391.0,363.2 L392.0,360.6 L393.0,357.9 L394.0,355.1 L395.0,352.3 L396.0,349.5 L397.0,346.9 L398.0,344.4 L399.0,341.9 L400.0,339.5 L401.0,337.2 L402.0,334.8 L403.0,332.4 L404.0,330.0 L405.0,327.5 L406.0,324.9 L407.0,322.1 L408.0,319.1 L409.0,315.9 L410.0,312.4 L411.0,308.7 L412.0,304.6 L413.0,300.3 L414.0,295.9 L415.0,291.3 L416.0,286.8 L417.0,282.3 L418.0,278.0 L419.0,273.7 L420.0,269.5 L421.0,265.4 L422.0,261.3 L423.0,257.3 L424.0,253.2 L425.0,249.2 L426.0,245.2 L427.0,241.2 L428.0,237.2 L429.0,233.2 L430.0,229.1 L431.0,225.0 L432.0,220.8 L433.0,216.5 L434.0,212.2 L435.0,207.7 L436.0,203.1 L437.0,198.4 L438.0,193.5 L439.0,188.5 L440.0,183.5 L441.0,178.3 L442.0,173.2 L443.0,168.0 L444.0,162.9 L445.0,157.8 L446.0,152.9 L447.0,148.0 L448.0,143.3 L449.0,138.7 L450.0,134.2 L451.0,129.9 L452.0,125.8 L453.0,121.8 L454.0,118.0 L455.0,114.3 L456.0,110.7 L457.0,107.3 L458.0,104.0 L459.0,100.8 L460.0,97.8 L461.0,94.8 L462.0,92.0 L463.0,89.2 L464.0,86.5 L465.0,83.9 L466.0,81.4 L467.0,79.0 L468.0,76.7 L469.0,74.4 L470.0,72.2 L471.0,70.0 L472.0,67.9 L473.0,65.8 L474.0,63.8 L475.0,61.9 L476.0,60.0 L477.0,58.3 L478.0,56.7 L479.0,55.3 L480.0,54.2 L481.0,53.3 L482.0,52.7 L483.0,52.2 L484.0,51.9 L485.0,51.8 L486.0,51.9 L487.0,52.0 L488.0,52.3 L489.0,52.6 L490.0,53.0 L491.0,53.5 L492.0,54.1 L493.0,54.8 L494.0,55.5 L495.0,56.2 L496.0,57.0 L497.0,57.8 L498.0,58.7 L499.0,59.6 L500.0,60.6 L501.0,61.6 L502.0,62.8 L503.0,64.1 L504.0,65.5 L505.0,67.0 L506.0,68.7 L507.0,70.5 L508.0,72.7 L509.0,75.4 L510.0,78.3 L511.0,81.5 L512.0,84.9 L513.0,88.5 L514.0,92.3 L515.0,96.1 L516.0,100.0 L517.0,103.9 L518.0,107.8 L519.0,111.6 L520.0,115.3 L521.0,119.1 L522.0,122.7 L523.0,126.4 L524.0,130.1 L525.0,133.7 L526.0,137.3 L527.0,140.9 L528.0,144.5 L529.0,148.1 L530.0,151.7 L531.0,155.3 L532.0,158.9 L533.0,162.5 L534.0,166.2 L535.0,169.8 L536.0,173.5 L537.0,177.2 L538.0,181.0 L539.0,184.7 L540.0,188.5 L541.0,192.3 L542.0,196.1 L543.0,199.9 L544.0,203.7 L545.0,207.6 L546.0,211.4 L547.0,215.3 L548.0,219.1 L549.0,222.9 L550.0,226.7 L551.0,230.5 L552.0,234.3 L553.0,238.1 L554.0,241.9 L555.0,245.6 L556.0,249.3 L557.0,253.0 L558.0,256.6 L559.0,260.2 L560.0,263.8 L561.0,267.4 L562.0,270.9 L563.0,274.4 L564.0,277.8 L565.0,281.2 L566.0,284.6 L567.0,287.9 L568.0,291.2 L569.0,294.4 L570.0,297.7 L571.0,300.8 L572.0,303.9 L573.0,307.0 L574.0,310.1 L575.0,313.1 L576.0,316.0 L577.0,319.0 L578.0,321.8 L579.0,324.7 L580.0,327.5 L581.0,330.2 L582.0,332.9 L583.0,335.5 L584.0,338.1 L585.0,340.7 L586.0,343.2 L587.0,345.6 L588.0,348.0 L589.0,350.4 L590.0,352.7 L591.0,354.9 L592.0,357.1 L593.0,359.3 L594.0,361.4 L595.0,363.5 L596.0,365.5 L597.0,367.5 L598.0,369.5 L599.0,371.4 L600.0,373.3 L601.0,375.1 L602.0,376.9 L603.0,378.7 L604.0,380.4 L605.0,382.1 L606.0,383.7 L607.0,385.4 L608.0,386.9 L609.0,388.5 L610.0,390.0 L611.0,391.5 L612.0,393.0 L613.0,394.5 L614.0,395.9 L615.0,397.3 L616.0,398.6 L617.0,400.0 L618.0,401.3 L619.0,402.6 L620.0,403.9 L621.0,405.1 L622.0,406.3 L623.0,407.5 L624.0,408.7 L625.0,409.8 L626.0,411.0 L627.0,412.0 L628.0,413.1 L629.0,414.1 L630.0,415.2 L631.0,416.1 L632.0,417.1 L633.0,418.0 L634.0,418.9 L635.0,419.8 L636.0,420.7 L637.0,421.5 L638.0,422.3 L639.0,423.1 L640.0,423.9 L641.0,424.6 L642.0,425.4 L643.0,426.1 L644.0,426.8 L645.0,427.5 L646.0,428.2 L647.0,428.8 L648.0,429.5 L649.0,430.1 L650.0,430.7 L651.0,431.3 L652.0,431.9 L653.0,432.5 L654.0,433.0 L655.0,433.6 L656.0,434.1 L657.0,434.6 L658.0,435.1 L659.0,435.6 L660.0,436.1 L661.0,436.6 L662.0,437.1 L663.0,437.5 L664.0,438.0 L665.0,438.4 L666.0,438.8 L667.0,439.2 L668.0,439.6 L669.0,440.0 L670.0,440.4 L671.0,440.8 L672.0,441.2 L673.0,441.5 L674.0,441.9 L675.0,442.2 L676.0,442.6 L677.0,442.9 L678.0,443.2 L679.0,443.5 L680.0,443.8 L681.0,444.1 L682.0,444.4 L683.0,444.7 L684.0,445.0 L685.0,445.3 L686.0,445.5 L687.0,445.8 L688.0,446.0 L689.0,446.3 L690.0,446.5 L691.0,446.7 L692.0,447.0 L693.0,447.2 L694.0,447.4 L695.0,447.6 L696.0,447.8 L697.0,448.0 L698.0,448.1 L699.0,448.3 L700.0,448.5 L701.0,448.7 L702.0,448.8 L703.0,449.0 L704.0,449.1 L705.0,449.3 L706.0,449.4 L707.0,449.6 L708.0,449.8 L709.0,449.9 L710.0,450.1 L711.0,450.2 L712.0,450.4 L713.0,450.6 L714.0,450.8 L715.0,451.0 L716.0,451.1 L717.0,451.3 L718.0,451.5 L719.0,451.7 L720.0,451.9 L721.0,452.0 L722.0,452.2 L723.0,452.4 L724.0,452.5 L725.0,452.6 L726.0,452.8 L727.0,452.8 L728.0,452.9 L729.0,453.0 L730.0,453.1 L731.0,453.2 L732.0,453.2 L733.0,453.3 L734.0,453.4 L735.0,453.4 L736.0,453.5 L737.0,453.6 L738.0,453.6 L739.0,453.7 L740.0,453.7 L741.0,453.8 L742.0,453.8 L743.0,453.9 L744.0,453.9 L745.0,454.0 L746.0,454.0 L747.0,454.0 L748.0,454.0 L749.0,454.1 L750.0,454.1 L751.0,454.1 L752.0,454.1 L753.0,454.1 L754.0,454.1 L755.0,454.1 L756.0,454.1 L757.0,454.0 L758.0,454.0 L759.0,454.0 L760.0,453.9 L761.0,453.9 L762.0,453.8 L763.0,453.8 L764.0,453.7 L765.0,453.6 L766.0,453.6 L767.0,453.5 L768.0,453.4 L769.0,453.3 L770.0,453.2 L771.0,453.2 L772.0,453.1 L773.0,453.0 L774.0,452.9 L775.0,452.8 L776.0,452.7 L777.0,452.5 L778.0,452.4 L779.0,452.3 L780.0,452.1 L781.0,451.9 L782.0,451.7 L783.0,451.4 L784.0,451.2 L785.0,450.9 L786.0,450.6 L787.0,450.4 L788.0,450.1 L789.0,449.8 L790.0,449.5 L791.0,449.2 L792.0,448.9 L793.0,448.6 L794.0,448.3 L795.0,448.0 L796.0,447.7 L797.0,447.4 L797.2,447.2" stroke="#8862A8" stroke-width="7.7"/>
<path d="M69.0,463.2 L70.0,463.2 L71.0,463.2 L72.0,463.3 L73.0,463.3 L74.0,463.3 L75.0,463.3 L76.0,463.3 L77.0,463.3 L78.0,463.3 L79.0,463.3 L80.0,463.4 L81.0,463.4 L82.0,463.4 L83.0,463.4 L84.0,463.4 L85.0,463.4 L86.0,463.4 L87.0,463.4 L88.0,463.4 L89.0,463.4 L90.0,463.4 L91.0,463.4 L92.0,463.4 L93.0,463.4 L94.0,463.4 L95.0,463.4 L96.0,463.4 L97.0,463.4 L98.0,463.4 L99.0,463.4 L100.0,463.4 L101.0,463.3 L102.0,463.3 L103.0,463.3 L104.0,463.3 L105.0,463.3 L106.0,463.3 L107.0,463.3 L108.0,463.3 L109.0,463.3 L110.0,463.3 L111.0,463.2 L112.0,463.2 L113.0,463.2 L114.0,463.2 L115.0,463.2 L116.0,463.2 L117.0,463.2 L118.0,463.2 L119.0,463.2 L120.0,463.1 L121.0,463.1 L122.0,463.1 L123.0,463.1 L124.0,463.1 L125.0,463.1 L126.0,463.1 L127.0,463.1 L128.0,463.1 L129.0,463.0 L130.0,463.0 L131.0,463.0 L132.0,463.0 L133.0,463.0 L134.0,463.0 L135.0,463.0 L136.0,463.0 L137.0,463.0 L138.0,462.9 L139.0,462.9 L140.0,462.9 L141.0,462.9 L142.0,462.9 L143.0,462.9 L144.0,462.9 L145.0,462.9 L146.0,462.9 L147.0,462.9 L148.0,462.9 L149.0,462.9 L150.0,462.9 L151.0,462.9 L152.0,462.9 L153.0,462.9 L154.0,462.9 L155.0,462.9 L156.0,462.9 L157.0,462.9 L158.0,462.9 L159.0,462.9 L160.0,462.9 L161.0,462.9 L162.0,462.9 L163.0,462.9 L164.0,462.9 L165.0,462.9 L166.0,462.9 L167.0,462.9 L168.0,462.9 L169.0,462.9 L170.0,462.9 L171.0,463.0 L172.0,463.0 L173.0,463.0 L174.0,463.0 L175.0,463.0 L176.0,463.0 L177.0,463.0 L178.0,463.0 L179.0,463.0 L180.0,463.0 L181.0,463.0 L182.0,463.0 L183.0,463.0 L184.0,463.0 L185.0,463.0 L186.0,463.0 L187.0,463.0 L188.0,463.0 L189.0,463.0 L190.0,463.0 L191.0,463.0 L192.0,462.9 L193.0,462.9 L194.0,462.9 L195.0,462.9 L196.0,462.9 L197.0,462.9 L198.0,462.9 L199.0,462.9 L200.0,462.8 L201.0,462.8 L202.0,462.8 L203.0,462.8 L204.0,462.7 L205.0,462.7 L206.0,462.7 L207.0,462.6 L208.0,462.6 L209.0,462.6 L210.0,462.5 L211.0,462.5 L212.0,462.5 L213.0,462.4 L214.0,462.4 L215.0,462.3 L216.0,462.3 L217.0,462.2 L218.0,462.2 L219.0,462.1 L220.0,462.0 L221.0,462.0 L222.0,461.9 L223.0,461.8 L224.0,461.8 L225.0,461.7 L226.0,461.6 L227.0,461.5 L228.0,461.5 L229.0,461.4 L230.0,461.3 L231.0,461.2 L232.0,461.1 L233.0,461.0 L234.0,460.9 L235.0,460.8 L236.0,460.7 L237.0,460.6 L238.0,460.4 L239.0,460.3 L240.0,460.2 L241.0,460.1 L242.0,460.0 L243.0,459.8 L244.0,459.7 L245.0,459.5 L246.0,459.4 L247.0,459.2 L248.0,459.1 L249.0,458.9 L250.0,458.8 L251.0,458.6 L252.0,458.4 L253.0,458.3 L254.0,458.1 L255.0,457.9 L256.0,457.7 L257.0,457.5 L258.0,457.3 L259.0,457.1 L260.0,456.9 L261.0,456.7 L262.0,456.5 L263.0,456.3 L264.0,456.0 L265.0,455.8 L266.0,455.6 L267.0,455.3 L268.0,455.1 L269.0,454.8 L270.0,454.5 L271.0,454.3 L272.0,454.0 L273.0,453.7 L274.0,453.4 L275.0,453.1 L276.0,452.8 L277.0,452.5 L278.0,452.2 L279.0,451.9 L280.0,451.5 L281.0,451.2 L282.0,450.8 L283.0,450.5 L284.0,450.1 L285.0,449.8 L286.0,449.4 L287.0,449.0 L288.0,448.6 L289.0,448.2 L290.0,447.8 L291.0,447.3 L292.0,446.9 L293.0,446.4 L294.0,446.0 L295.0,445.5 L296.0,445.0 L297.0,444.6 L298.0,444.1 L299.0,443.5 L300.0,443.0 L301.0,442.5 L302.0,441.9 L303.0,441.4 L304.0,440.8 L305.0,440.2 L306.0,439.6 L307.0,439.0 L308.0,438.4 L309.0,437.7 L310.0,437.1 L311.0,436.4 L312.0,435.7 L313.0,435.0 L314.0,434.3 L315.0,433.6 L316.0,432.9 L317.0,432.1 L318.0,431.4 L319.0,430.6 L320.0,429.9 L321.0,429.1 L322.0,428.3 L323.0,427.5 L324.0,426.7 L325.0,425.9 L326.0,425.1 L327.0,424.2 L328.0,423.4 L329.0,422.6 L330.0,421.8 L331.0,420.9 L332.0,420.1 L333.0,419.2 L334.0,418.4 L335.0,417.5 L336.0,416.7 L337.0,415.8 L338.0,415.0 L339.0,414.1 L340.0,413.3 L341.0,412.5 L342.0,411.6 L343.0,410.8 L344.0,410.0 L345.0,409.1 L346.0,408.3 L347.0,407.5 L348.0,406.7 L349.0,405.9 L350.0,405.1 L351.0,404.3 L352.0,403.6 L353.0,402.8 L354.0,402.1 L355.0,401.3 L356.0,400.6 L357.0,399.8 L358.0,399.1 L359.0,398.4 L360.0,397.7 L361.0,397.0 L362.0,396.3 L363.0,395.6 L364.0,394.8 L365.0,394.1 L366.0,393.4 L367.0,392.7 L368.0,391.9 L369.0,391.2 L370.0,390.4 L371.0,389.6 L372.0,388.8 L373.0,387.9 L374.0,387.1 L375.0,386.2 L376.0,385.2 L377.0,384.3 L378.0,383.2 L379.0,382.2 L380.0,381.0 L381.0,379.8 L382.0,378.5 L383.0,377.1 L384.0,375.7 L385.0,374.1 L386.0,372.4 L387.0,370.7 L388.0,368.8 L389.0,366.8 L390.0,364.6 L391.0,362.4 L392.0,360.0 L393.0,357.5 L394.0,354.9 L395.0,352.2 L396.0,349.4 L397.0,346.6 L398.0,343.7 L399.0,340.8 L400.0,337.8 L401.0,334.8 L402.0,331.7 L403.0,328.6 L404.0,325.3 L405.0,322.1 L406.0,318.8 L407.0,315.4 L408.0,312.0 L409.0,308.5 L410.0,304.9 L411.0,301.3 L412.0,297.6 L413.0,293.8 L414.0,290.0 L415.0,286.2 L416.0,282.2 L417.0,278.2 L418.0,274.1 L419.0,270.0 L420.0,265.8 L421.0,261.5 L422.0,257.2 L423.0,252.8 L424.0,248.4 L425.0,243.9 L426.0,239.3 L427.0,234.7 L428.0,230.0 L429.0,225.3 L430.0,220.6 L431.0,215.8 L432.0,211.0 L433.0,206.2 L434.0,201.3 L435.0,196.5 L436.0,191.6 L437.0,186.7 L438.0,181.9 L439.0,177.0 L440.0,172.2 L441.0,167.4 L442.0,162.6 L443.0,157.9 L444.0,153.2 L445.0,148.6 L446.0,144.0 L447.0,139.5 L448.0,135.0 L449.0,130.6 L450.0,126.3 L451.0,122.0 L452.0,117.9 L453.0,113.8 L454.0,109.7 L455.0,105.8 L456.0,101.9 L457.0,98.1 L458.0,94.4 L459.0,90.7 L460.0,87.2 L461.0,83.7 L462.0,80.2 L463.0,76.8 L464.0,73.5 L465.0,70.3 L466.0,67.2 L467.0,64.3 L468.0,61.7 L469.0,59.3 L470.0,57.2 L471.0,55.3 L472.0,53.6 L473.0,52.1 L474.0,50.7 L475.0,49.4 L476.0,48.3 L477.0,47.3 L478.0,46.4 L479.0,45.6 L480.0,44.9 L481.0,44.3 L482.0,43.9 L483.0,43.6 L484.0,43.4 L485.0,43.4 L486.0,43.5 L487.0,43.8 L488.0,44.3 L489.0,44.9 L490.0,45.6 L491.0,46.3 L492.0,47.2 L493.0,48.1 L494.0,49.1 L495.0,50.2 L496.0,51.3 L497.0,52.5 L498.0,53.7 L499.0,55.1 L500.0,56.5 L501.0,58.1 L502.0,59.7 L503.0,61.5 L504.0,63.4 L505.0,65.4 L506.0,67.6 L507.0,70.0 L508.0,72.6 L509.0,75.3 L510.0,78.3 L511.0,81.5 L512.0,84.9 L513.0,88.5 L514.0,92.3 L515.0,96.1 L516.0,100.0 L517.0,103.9 L518.0,107.8 L519.0,111.6 L520.0,115.3 L521.0,119.1 L522.0,122.8 L523.0,126.4 L524.0,130.1 L525.0,133.7 L526.0,137.3 L527.0,140.9 L528.0,144.5 L529.0,148.1 L530.0,151.7 L531.0,155.3 L532.0,158.9 L533.0,162.5 L534.0,166.2 L535.0,169.8 L536.0,173.5 L537.0,177.2 L538.0,181.0 L539.0,184.7 L540.0,188.5 L541.0,192.3 L542.0,196.1 L543.0,199.9 L544.0,203.7 L545.0,207.6 L546.0,211.4 L547.0,215.3 L548.0,219.1 L549.0,222.9 L550.0,226.7 L551.0,230.5 L552.0,234.3 L553.0,238.1 L554.0,241.9 L555.0,245.6 L556.0,249.3 L557.0,253.0 L558.0,256.6 L559.0,260.2 L560.0,263.8 L561.0,267.4 L562.0,270.9 L563.0,274.4 L564.0,277.8 L565.0,281.2 L566.0,284.6 L567.0,287.9 L568.0,291.2 L569.0,294.5 L570.0,297.7 L571.0,300.8 L572.0,304.0 L573.0,307.0 L574.0,310.1 L575.0,313.1 L576.0,316.0 L577.0,319.0 L578.0,321.8 L579.0,324.7 L580.0,327.5 L581.0,330.2 L582.0,332.9 L583.0,335.5 L584.0,338.1 L585.0,340.7 L586.0,343.2 L587.0,345.6 L588.0,348.0 L589.0,350.4 L590.0,352.7 L591.0,354.9 L592.0,357.1 L593.0,359.3 L594.0,361.4 L595.0,363.5 L596.0,365.5 L597.0,367.5 L598.0,369.5 L599.0,371.4 L600.0,373.3 L601.0,375.1 L602.0,376.9 L603.0,378.7 L604.0,380.4 L605.0,382.1 L606.0,383.7 L607.0,385.4 L608.0,387.0 L609.0,388.5 L610.0,390.0 L611.0,391.6 L612.0,393.0 L613.0,394.5 L614.0,395.9 L615.0,397.3 L616.0,398.7 L617.0,400.0 L618.0,401.3 L619.0,402.6 L620.0,403.9 L621.0,405.1 L622.0,406.3 L623.0,407.5 L624.0,408.7 L625.0,409.8 L626.0,411.0 L627.0,412.1 L628.0,413.1 L629.0,414.2 L630.0,415.2 L631.0,416.1 L632.0,417.1 L633.0,418.0 L634.0,418.9 L635.0,419.8 L636.0,420.7 L637.0,421.5 L638.0,422.3 L639.0,423.1 L640.0,423.9 L641.0,424.7 L642.0,425.4 L643.0,426.1 L644.0,426.8 L645.0,427.5 L646.0,428.2 L647.0,428.8 L648.0,429.5 L649.0,430.1 L650.0,430.7 L651.0,431.3 L652.0,431.9 L653.0,432.5 L654.0,433.0 L655.0,433.6 L656.0,434.1 L657.0,434.6 L658.0,435.1 L659.0,435.6 L660.0,436.1 L661.0,436.6 L662.0,437.1 L663.0,437.5 L664.0,438.0 L665.0,438.4 L666.0,438.8 L667.0,439.2 L668.0,439.6 L669.0,440.0 L670.0,440.4 L671.0,440.8 L672.0,441.2 L673.0,441.5 L674.0,441.9 L675.0,442.2 L676.0,442.6 L677.0,442.9 L678.0,443.2 L679.0,443.5 L680.0,443.9 L681.0,444.1 L682.0,444.4 L683.0,444.7 L684.0,445.0 L685.0,445.3 L686.0,445.5 L687.0,445.8 L688.0,446.0 L689.0,446.3 L690.0,446.5 L691.0,446.7 L692.0,447.0 L693.0,447.2 L694.0,447.4 L695.0,447.6 L696.0,447.8 L697.0,448.0 L698.0,448.1 L699.0,448.3 L700.0,448.5 L701.0,448.7 L702.0,448.8 L703.0,449.0 L704.0,449.1 L705.0,449.3 L706.0,449.4 L707.0,449.5 L708.0,449.6 L709.0,449.8 L710.0,449.9 L711.0,450.0 L712.0,450.1 L713.0,450.2 L714.0,450.3 L715.0,450.4 L716.0,450.4 L717.0,450.5 L718.0,450.6 L719.0,450.7 L720.0,450.7 L721.0,450.8 L722.0,450.8 L723.0,450.9 L724.0,450.9 L725.0,451.0 L726.0,451.0 L727.0,451.0 L728.0,451.1 L729.0,451.1 L730.0,451.1 L731.0,451.1 L732.0,451.1 L733.0,451.1 L734.0,451.2 L735.0,451.2 L736.0,451.2 L737.0,451.1 L738.0,451.1 L739.0,451.1 L740.0,451.1 L741.0,451.1 L742.0,451.1 L743.0,451.0 L744.0,451.0 L745.0,451.0 L746.0,450.9 L747.0,450.9 L748.0,450.9 L749.0,450.8 L750.0,450.8 L751.0,450.7 L752.0,450.7 L753.0,450.6 L754.0,450.6 L755.0,450.5 L756.0,450.4 L757.0,450.4 L758.0,450.3 L759.0,450.2 L760.0,450.2 L761.0,450.1 L762.0,450.0 L763.0,449.9 L764.0,449.9 L765.0,449.8 L766.0,449.7 L767.0,449.6 L768.0,449.5 L769.0,449.4 L770.0,449.3 L771.0,449.2 L772.0,449.1 L773.0,449.0 L774.0,448.9 L775.0,448.7 L776.0,448.6 L777.0,448.4 L778.0,448.2 L779.0,448.0 L780.0,447.8 L781.0,447.6 L782.0,447.3 L783.0,447.1 L784.0,446.8 L785.0,446.5 L786.0,446.1 L787.0,445.7 L788.0,445.3 L789.0,444.9 L790.0,444.4 L791.0,443.9 L792.0,443.4 L793.0,442.8 L794.0,442.1 L795.0,441.5 L796.0,440.8 L797.0,440.2 L797.2,439.7" stroke="#09AAC8" stroke-width="7.7"/>
</g>
<g font-family="'Liberation Serif', serif" font-size="32.5" fill="#000" text-anchor="middle">
<text x="69.2" y="512.3">7</text>
<text x="214.8" y="512.3">8</text>
<text x="360.4" y="512.3">9</text>
<text x="506.0" y="512.3">10</text>
<text x="651.6" y="512.3">11</text>
<text x="797.2" y="512.3">12</text>
<text x="942.8" y="512.3">13</text>
</g>
<text y="555" font-family="'Liberation Serif', serif" font-weight="bold" font-size="34.6" fill="#000"><tspan x="361.8">Elution</tspan> <tspan x="482.8">Time</tspan> <tspan x="568.6">(min)</tspan></text>
<g font-family="'Liberation Serif', serif" font-size="32" word-spacing="1.5" fill="#000">
<path d="M636.7,49.3 H697.5" stroke="#88BA4C" stroke-width="7.2" stroke-linecap="round" fill="none"/>
<text x="705.3" y="58.9">PS-TEMPO precursor</text>
<path d="M636.7,127.6 H697.5" stroke="#000000" stroke-width="7.2" stroke-linecap="round" fill="none"/>
<text x="705.3" y="137.2">MNP</text>
<path d="M636.7,206.3 H697.5" stroke="#DB4B4B" stroke-width="7.2" stroke-linecap="round" fill="none"/>
<text x="705.3" y="215.9">PBN</text>
<path d="M636.7,285.2 H697.5" stroke="#8862A8" stroke-width="7.2" stroke-linecap="round" fill="none"/>
<text x="705.3" y="294.8">DMNA</text>
<path d="M636.7,363.9 H697.5" stroke="#09AAC8" stroke-width="7.2" stroke-linecap="round" fill="none"/>
<text x="705.3" y="373.5">NDPA</text>
</g>
</svg>
</body>
</html>
